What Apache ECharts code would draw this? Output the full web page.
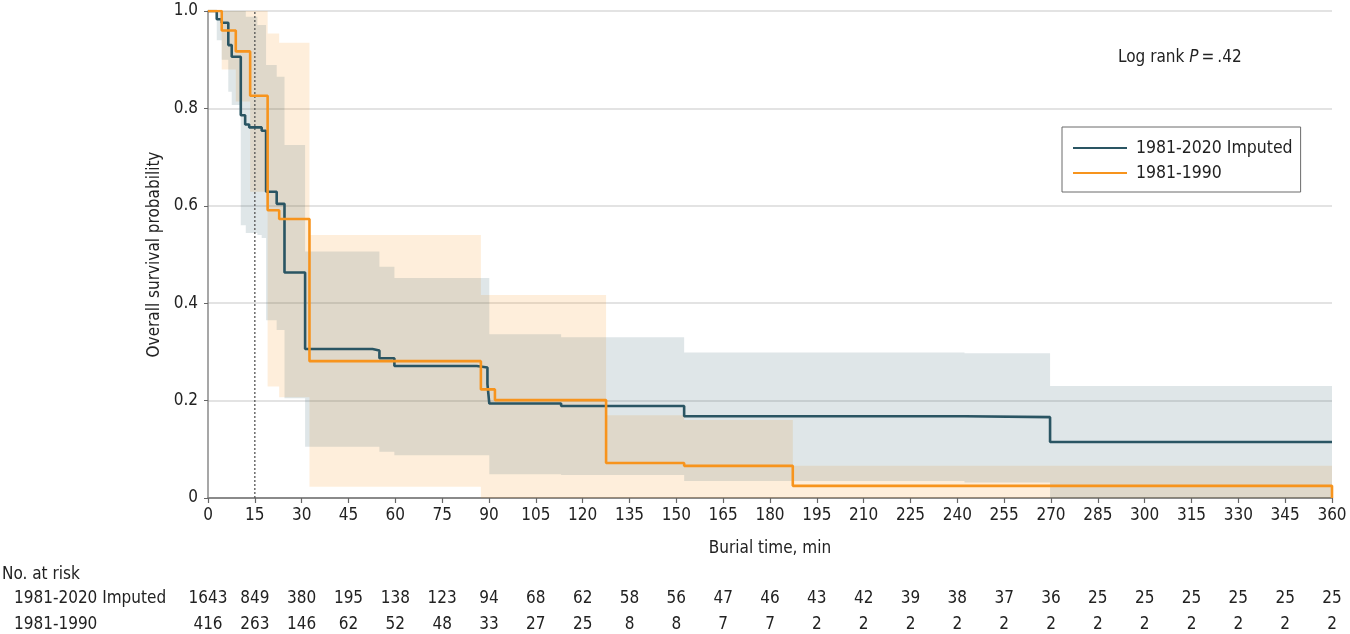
<!DOCTYPE html>
<html>
<head>
<meta charset="utf-8">
<script src="https://cdn.jsdelivr.net/npm/echarts/dist/echarts.min.js"></script>
<style>
html,body{margin:0;padding:0;background:#fff}
#km{width:1350px;height:634px}
</style>
</head>
<body>
<div id="km"></div>
<script>
var fam = '"DejaVu Sans Condensed", "DejaVu Sans", sans-serif';
var darkCol = '#2a5563';
var orangeCol = '#f7941d';

// Kaplan-Meier steps (burial time in min, survival probability)
var impTime = [0, 2.8, 4.4, 6.5, 7.6, 10.5, 11.9, 13.2, 17.2, 18.6, 22.0, 24.5, 31.1, 52.7, 54.9, 59.7, 86.1, 89.5, 90.1, 113.1, 152.5, 242.3, 269.7, 360];
var impSurv = [1.0, 0.983, 0.976, 0.930, 0.906, 0.786, 0.767, 0.761, 0.754, 0.629, 0.604, 0.463, 0.306, 0.303, 0.287, 0.271, 0.268, 0.234, 0.194, 0.189, 0.168, 0.166, 0.115, 0.115];
var oldTime = [0, 4.4, 8.9, 13.5, 19.1, 22.8, 32.5, 87.4, 91.9, 127.5, 152.5, 187.3, 360];
var oldSurv = [1.0, 0.960, 0.917, 0.826, 0.591, 0.573, 0.281, 0.223, 0.201, 0.072, 0.066, 0.025, 0];

// confidence bands: interval edges, lower and upper bound per interval
var impBandEdge = [2.8, 4.4, 6.5, 7.6, 10.5, 12.1, 15.8, 17.2, 18.6, 22.0, 24.5, 31.1, 54.9, 59.7, 90.1, 113.1, 152.5, 242.3, 269.7, 360];
var impBandLo = [0.94, 0.90, 0.834, 0.807, 0.56, 0.544, 0.540, 0.534, 0.365, 0.345, 0.205, 0.105, 0.095, 0.088, 0.049, 0.047, 0.035, 0.032, 0.0];
var impBandHi = [1.0, 1.0, 1.0, 1.0, 1.0, 0.988, 0.971, 0.971, 0.889, 0.865, 0.725, 0.506, 0.475, 0.452, 0.336, 0.330, 0.299, 0.297, 0.230];
var oldBandEdge = [4.4, 8.9, 13.5, 19.1, 22.8, 32.5, 87.4, 127.5, 152.5, 187.3, 360];
var oldBandLo = [0.88, 0.814, 0.629, 0.229, 0.207, 0.023, 0.0, 0.0, 0.0, 0.0];
var oldBandHi = [1.0, 1.0, 1.0, 0.954, 0.935, 0.54, 0.417, 0.17, 0.16, 0.066];

// numbers at risk, one per 15-min tick
var impRisk = [1643, 849, 380, 195, 138, 123, 94, 68, 62, 58, 56, 47, 46, 43, 42, 39, 38, 37, 36, 25, 25, 25, 25, 25, 25];
var oldRisk = [416, 263, 146, 62, 52, 48, 33, 27, 25, 8, 8, 7, 7, 2, 2, 2, 2, 2, 2, 2, 2, 2, 2, 2, 2];

function pairs(xs, ys) {
  return xs.map(function (x, i) { return [x, ys[i]]; });
}

function bandPoly(edge, lo, hi) {
  var pts = [];
  for (var i = 0; i < lo.length; i++) {
    pts.push([edge[i], hi[i]], [edge[i + 1], hi[i]]);
  }
  for (var j = lo.length - 1; j >= 0; j--) {
    pts.push([edge[j + 1], lo[j]], [edge[j], lo[j]]);
  }
  return pts;
}

function bandSeries(edge, lo, hi, fill) {
  var poly = bandPoly(edge, lo, hi);
  return {
    type: 'custom',
    xAxisIndex: 0, yAxisIndex: 0,
    silent: true,
    z: 1,
    data: [[0, 0]],
    renderItem: function (params, api) {
      return {
        type: 'polygon',
        shape: { points: poly.map(function (p) { return api.coord(p); }) },
        style: { fill: fill }
      };
    }
  };
}

function riskAxis(idx, arr) {
  return {
    type: 'value', gridIndex: idx, min: 0, max: 360, interval: 15,
    axisLine: { show: false }, axisTick: { show: false }, splitLine: { show: false },
    axisLabel: {
      margin: 8, verticalAlign: 'middle', fontSize: 17, color: '#222',
      showMinLabel: true, showMaxLabel: true,
      formatter: function (v) { return String(arr[Math.round(v / 15)]); }
    }
  };
}

var chart = echarts.init(document.getElementById('km'));
var option = {
  animation: false,
  textStyle: { fontFamily: fam },
  grid: [
    { left: 208, right: 18, top: 11, bottom: 136 },
    { left: 208, right: 18, top: 590, height: 1 },
    { left: 208, right: 18, top: 616, height: 1 }
  ],
  xAxis: [
    {
      type: 'value', gridIndex: 0, min: 0, max: 360, interval: 15,
      name: 'Burial time, min', nameLocation: 'middle', nameGap: 42,
      nameTextStyle: { fontSize: 17, color: '#222' },
      axisLine: { lineStyle: { color: '#8a8a8a', width: 2 } },
      axisTick: { length: 5, lineStyle: { color: '#666', width: 1.2 } },
      axisLabel: { margin: 9, fontSize: 17, color: '#222', showMaxLabel: true },
      splitLine: { show: false }
    },
    riskAxis(1, impRisk),
    riskAxis(2, oldRisk)
  ],
  yAxis: [
    {
      type: 'value', gridIndex: 0, min: 0, max: 1, interval: 0.2,
      name: 'Overall survival probability', nameLocation: 'middle', nameGap: 42,
      nameTextStyle: { fontSize: 17, color: '#222' },
      axisLine: { show: true, lineStyle: { color: '#8a8a8a', width: 1.5 } },
      axisTick: { show: true, length: 4, lineStyle: { color: '#666' } },
      axisLabel: {
        margin: 10, fontSize: 17, color: '#222',
        formatter: function (v) { return v === 0 ? '0' : v.toFixed(1); }
      },
      splitLine: { lineStyle: { color: '#dadada', width: 1.5 } }
    },
    { type: 'value', gridIndex: 1, show: false },
    { type: 'value', gridIndex: 2, show: false }
  ],
  legend: {
    data: ['1981-2020 Imputed', '1981-1990'],
    orient: 'vertical',
    left: 1062, top: 127,
    padding: [12, 8, 10, 10],
    itemWidth: 54, itemHeight: 14, itemGap: 7,
    borderColor: '#6a6a6a', borderWidth: 1,
    itemStyle: { opacity: 0 },
    lineStyle: { opacity: 1 },
    textStyle: { fontSize: 17.5, color: '#222', padding: [0, 0, 0, 4] }
  },
  graphic: [
    { type: 'text', left: 2, top: 566, style: { text: 'No. at risk', font: '17px ' + fam, fill: '#222' } },
    { type: 'text', left: 14, top: 590, style: { text: '1981-2020 Imputed', font: '17px ' + fam, fill: '#222' } },
    { type: 'text', left: 14, top: 616, style: { text: '1981-1990', font: '17px ' + fam, fill: '#222' } },
    {
      type: 'text', left: 1118, top: 49,
      style: {
        text: '{a|Log rank }{i|P}{a|\u2009=\u2009.42}',
        rich: {
          a: { fontSize: 17, fontFamily: fam, fill: '#222' },
          i: { fontSize: 17, fontFamily: fam, fontStyle: 'italic', fill: '#222' }
        }
      }
    }
  ],
  series: [
    bandSeries(oldBandEdge, oldBandLo, oldBandHi, 'rgba(247,148,29,0.16)'),
    bandSeries(impBandEdge, impBandLo, impBandHi, 'rgba(42,85,99,0.15)'),
    {
      name: 'marker15', type: 'line', xAxisIndex: 0, yAxisIndex: 0,
      data: [[15, 0], [15, 1]], symbol: 'none', silent: true, z: 2,
      lineStyle: { color: '#555', width: 1.3, type: [2, 2] }
    },
    {
      name: '1981-2020 Imputed', type: 'line', step: 'end', xAxisIndex: 0, yAxisIndex: 0,
      data: pairs(impTime, impSurv), symbol: 'none', z: 4,
      color: darkCol, lineStyle: { color: darkCol, width: 2.6 }
    },
    {
      name: '1981-1990', type: 'line', step: 'end', xAxisIndex: 0, yAxisIndex: 0,
      data: pairs(oldTime, oldSurv), symbol: 'none', z: 5,
      color: orangeCol, lineStyle: { color: orangeCol, width: 2.6 }
    }
  ]
};
chart.setOption(option);
</script>
</body>
</html>
